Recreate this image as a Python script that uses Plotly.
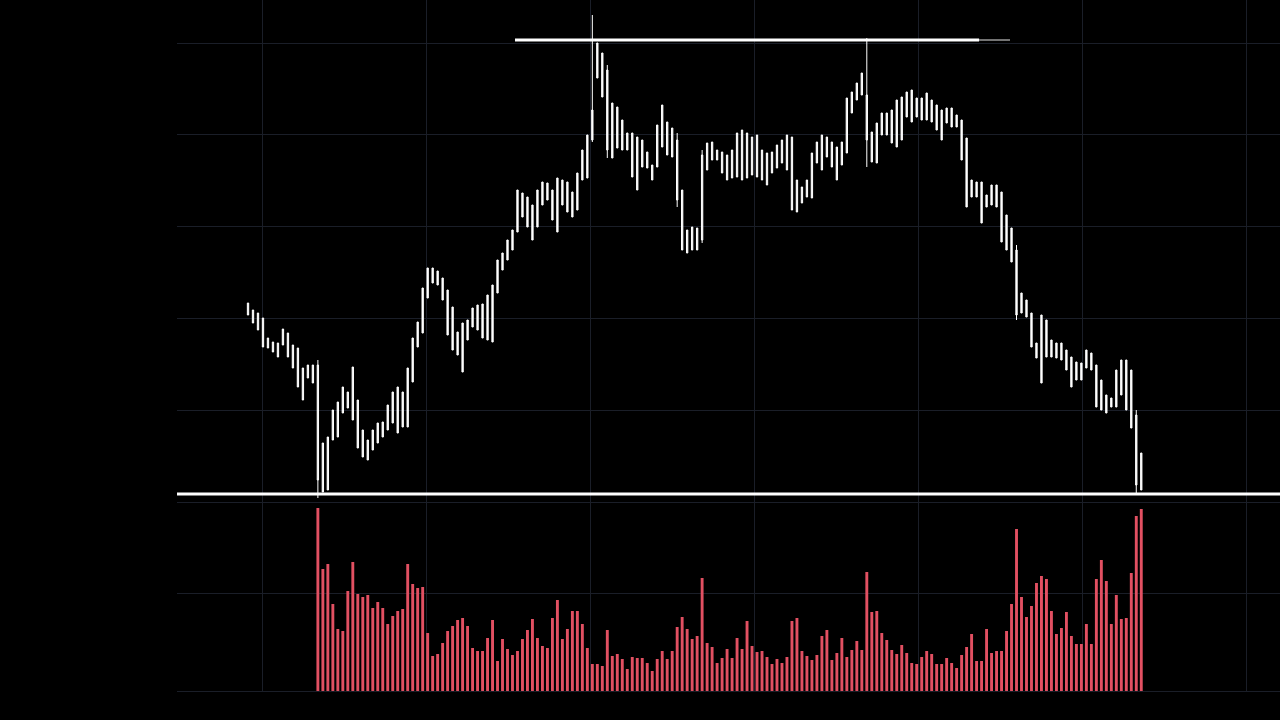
import plotly.graph_objects as go

# ---- price candles (index 0..179) ----
highs = [79.4, 78.0, 77.4, 76.4, 72.4, 71.6, 71.4, 74.2, 73.4, 71.0,
         70.4, 66.4, 67.0, 67.0, 68.0, 51.4, 52.6, 58.0, 59.6, 62.6,
         61.6, 66.6, 60.0, 54.0, 52.0, 54.0, 55.4, 55.6, 59.0, 61.6,
         62.6, 61.6, 66.4, 72.4, 75.6, 82.4, 86.4, 86.4, 85.8, 84.4,
         82.0, 78.6, 73.6, 75.4, 76.0, 78.4, 79.0, 79.2, 81.0, 83.0,
         88.0, 89.4, 92.0, 94.0, 102.0, 101.4, 100.6, 99.0, 102.0, 103.6,
         103.4, 102.0, 104.4, 104.0, 103.6, 101.6, 105.4, 110.0, 113.0, 137.0,
         131.4, 129.4, 127.0, 119.4, 118.6, 116.0, 113.4, 113.4, 112.6, 112.0,
         109.6, 107.0, 115.0, 119.0, 115.6, 114.4, 113.4, 102.0, 94.0, 94.6,
         94.4, 110.0, 111.4, 111.6, 110.0, 109.6, 109.0, 110.0, 113.4, 114.0,
         113.4, 112.6, 113.0, 110.0, 109.4, 109.6, 111.0, 112.0, 113.0, 112.6,
         104.0, 102.6, 104.0, 109.4, 111.6, 113.0, 112.6, 111.6, 110.6, 111.6,
         120.4, 121.6, 123.4, 125.4, 132.4, 113.6, 115.4, 117.4, 117.4, 118.0,
         120.0, 120.6, 121.6, 122.0, 120.4, 120.4, 121.4, 120.0, 119.0, 118.0,
         118.4, 118.4, 117.0, 116.0, 112.4, 104.0, 103.6, 103.6, 101.0, 103.0,
         103.0, 101.6, 97.0, 94.4, 91.0, 81.4, 80.0, 77.4, 71.4, 77.0,
         76.0, 72.0, 71.4, 71.4, 70.0, 68.6, 67.6, 67.4, 70.0, 69.4,
         67.0, 64.0, 61.0, 60.4, 66.0, 68.0, 68.0, 66.0, 58.0, 49.4]

lows = [77.0, 75.4, 74.0, 70.6, 70.4, 69.6, 68.6, 71.0, 68.6, 66.4,
        62.6, 60.0, 64.4, 63.4, 40.4, 41.6, 42.0, 52.0, 52.6, 57.4,
        58.4, 56.0, 50.4, 48.6, 48.0, 50.0, 51.4, 52.6, 54.0, 55.4,
        53.4, 54.6, 54.6, 63.6, 70.6, 73.4, 80.4, 83.4, 83.0, 80.0,
        73.0, 70.0, 69.0, 65.6, 72.0, 74.6, 74.0, 72.4, 72.0, 71.6,
        81.4, 86.0, 88.0, 90.0, 93.6, 96.6, 94.6, 92.0, 94.6, 99.0,
        100.0, 96.0, 93.6, 99.0, 97.6, 96.6, 98.0, 104.0, 104.4, 111.6,
        124.4, 120.6, 108.4, 108.4, 110.4, 110.0, 110.0, 104.6, 102.0, 106.6,
        106.4, 104.0, 106.6, 110.6, 109.0, 108.6, 98.6, 90.0, 89.4, 90.0,
        90.0, 91.4, 106.0, 108.0, 108.0, 105.4, 104.0, 104.4, 104.6, 104.0,
        104.4, 105.0, 104.6, 104.0, 103.0, 105.4, 106.4, 107.4, 106.0, 98.0,
        97.6, 99.4, 100.6, 100.4, 107.4, 106.0, 108.6, 106.6, 104.0, 107.0,
        109.4, 117.4, 120.0, 121.0, 106.6, 107.6, 107.4, 113.0, 113.0, 111.4,
        110.6, 112.0, 116.6, 115.6, 116.6, 116.0, 116.0, 115.6, 114.0, 112.0,
        115.4, 114.6, 114.6, 108.0, 98.6, 100.6, 100.6, 95.4, 98.6, 99.0,
        98.6, 91.6, 90.0, 87.6, 76.0, 77.4, 76.6, 70.6, 68.4, 63.4,
        68.6, 68.6, 68.4, 68.0, 66.0, 62.6, 64.0, 64.0, 66.4, 66.0,
        58.6, 58.0, 57.4, 58.6, 58.6, 61.0, 58.0, 54.4, 41.4, 42.0]

opens = [79.4, 78.0, 77.4, 76.4, 72.4, 71.6, 71.4, 71.0, 73.4, 71.0,
         70.4, 66.4, 64.4, 67.0, 67.0, 51.4, 42.0, 52.0, 52.6, 57.4,
         61.6, 56.0, 60.0, 54.0, 52.0, 50.0, 51.4, 52.6, 54.0, 55.4,
         62.6, 54.6, 54.6, 63.6, 70.6, 73.4, 80.4, 86.4, 85.8, 84.4,
         82.0, 78.6, 73.6, 65.6, 72.0, 74.6, 79.0, 72.4, 72.0, 71.6,
         81.4, 86.0, 88.0, 90.0, 93.6, 101.4, 100.6, 99.0, 94.6, 99.0,
         103.4, 102.0, 93.6, 104.0, 103.6, 101.6, 98.0, 104.0, 104.4, 112.0,
         131.4, 129.4, 126.0, 108.4, 118.6, 116.0, 113.4, 113.4, 102.0, 112.0,
         109.6, 104.0, 106.6, 110.6, 115.6, 114.4, 112.0, 102.0, 94.0, 90.0,
         94.4, 92.0, 106.0, 111.6, 110.0, 109.6, 104.0, 104.4, 104.6, 114.0,
         104.4, 112.6, 113.0, 110.0, 103.0, 105.4, 106.4, 107.4, 113.0, 112.6,
         104.0, 99.4, 100.6, 100.4, 107.4, 113.0, 112.6, 111.6, 104.0, 107.0,
         109.4, 117.4, 120.0, 121.0, 121.0, 107.6, 107.4, 113.0, 113.0, 111.4,
         110.6, 112.0, 116.6, 122.0, 116.6, 116.0, 121.4, 120.0, 119.0, 112.0,
         118.4, 118.4, 117.0, 116.0, 112.4, 100.6, 103.6, 95.4, 98.6, 103.0,
         103.0, 101.6, 97.0, 94.4, 90.0, 81.4, 80.0, 77.4, 68.4, 77.0,
         68.6, 72.0, 68.4, 71.4, 70.0, 62.6, 67.6, 64.0, 70.0, 69.4,
         67.0, 64.0, 57.4, 58.6, 58.6, 68.0, 68.0, 66.0, 57.0, 42.0]

closes = [77.0, 75.4, 74.0, 70.6, 70.4, 69.6, 68.6, 74.2, 68.6, 66.4,
          62.6, 60.0, 67.0, 63.4, 44.0, 41.6, 52.6, 58.0, 59.6, 62.6,
          58.4, 66.6, 50.4, 48.6, 48.0, 54.0, 55.4, 55.6, 59.0, 61.6,
          53.4, 61.6, 66.4, 72.4, 75.6, 82.4, 86.4, 83.4, 83.0, 80.0,
          73.0, 70.0, 69.0, 75.4, 76.0, 78.4, 74.0, 79.2, 81.0, 83.0,
          88.0, 89.4, 92.0, 94.0, 102.0, 96.6, 94.6, 92.0, 102.0, 103.6,
          100.0, 96.0, 104.4, 99.0, 97.6, 96.6, 105.4, 110.0, 113.0, 118.0,
          124.4, 120.6, 110.0, 119.4, 110.4, 110.0, 110.0, 104.6, 112.6, 106.6,
          106.4, 107.0, 115.0, 119.0, 109.0, 108.6, 100.0, 90.0, 89.4, 94.6,
          90.0, 109.0, 111.4, 108.0, 108.0, 105.4, 109.0, 110.0, 113.4, 104.0,
          113.4, 105.0, 104.6, 104.0, 109.4, 109.6, 111.0, 112.0, 106.0, 98.0,
          97.6, 102.6, 104.0, 109.4, 111.6, 106.0, 108.6, 106.6, 110.6, 111.6,
          120.4, 121.6, 123.4, 125.4, 112.0, 113.6, 115.4, 117.4, 117.4, 118.0,
          120.0, 120.6, 121.6, 115.6, 120.4, 120.4, 116.0, 115.6, 114.0, 118.0,
          115.4, 114.6, 114.6, 108.0, 98.6, 104.0, 100.6, 103.6, 101.0, 99.0,
          98.6, 91.6, 90.0, 87.6, 77.0, 77.4, 76.6, 70.6, 71.4, 63.4,
          76.0, 68.6, 71.4, 68.0, 66.0, 68.6, 64.0, 67.4, 66.4, 66.0,
          58.6, 58.0, 61.0, 60.4, 66.0, 61.0, 58.0, 54.4, 43.0, 49.4]

# ---- volume (starts at candle 14) ----
VOLUME_START = 14
volumes = [18.3, 12.2, 12.7, 8.7, 6.2, 6.0, 10.0, 12.9, 9.7, 9.4,
           9.6, 8.3, 8.9, 8.3, 6.7, 7.5, 8.0, 8.2, 12.7, 10.7,
           10.3, 10.4, 5.8, 3.5, 3.7, 4.8, 6.0, 6.5, 7.1, 7.3,
           6.5, 4.3, 4.0, 4.0, 5.3, 7.1, 3.0, 5.2, 4.2, 3.6,
           4.0, 5.2, 6.1, 7.2, 5.3, 4.5, 4.3, 7.3, 9.1, 5.2,
           6.2, 8.0, 8.0, 6.7, 4.3, 2.7, 2.7, 2.5, 6.1, 3.5,
           3.7, 3.2, 2.2, 3.4, 3.3, 3.3, 2.8, 2.0, 3.2, 4.0,
           3.2, 4.0, 6.4, 7.4, 6.2, 5.2, 5.5, 11.3, 4.8, 4.4,
           2.8, 3.3, 4.2, 3.3, 5.3, 4.2, 7.0, 4.5, 3.9, 4.0,
           3.4, 2.7, 3.2, 2.8, 3.4, 7.0, 7.3, 4.0, 3.5, 3.1,
           3.6, 5.5, 6.1, 3.1, 3.8, 5.3, 3.4, 4.1, 5.0, 4.1,
           11.9, 7.9, 8.0, 5.8, 5.1, 4.1, 3.7, 4.6, 3.8, 2.8,
           2.7, 3.4, 4.0, 3.7, 2.7, 2.7, 3.3, 2.8, 2.3, 3.6,
           4.4, 5.7, 3.0, 3.0, 6.2, 3.8, 4.0, 4.0, 6.0, 8.7,
           16.2, 9.4, 7.4, 8.5, 10.8, 11.5, 11.2, 8.0, 5.7, 6.3,
           7.9, 5.5, 4.7, 4.7, 6.7, 4.7, 11.2, 13.1, 11.0, 6.7,
           9.6, 7.2, 7.3, 11.8, 17.5, 18.2]

# ---- horizontal levels ----
support_level = 41.2
resistance_level = 132.0
resistance_start, resistance_solid_end, resistance_end = 53.5, 146.5, 152.7

idx = list(range(len(highs)))
vol_idx = list(range(VOLUME_START, VOLUME_START + len(volumes)))

GRID = "rgb(26,30,40)"
X_RANGE = [-14.23, 206.8]
Y_RANGE = [1.8, 140.0]
y_grid_vals = [131.4 - 18.366 * k for k in range(7)]

fig = go.Figure()

fig.add_trace(go.Bar(
    x=vol_idx, y=volumes, yaxis="y2", width=0.58,
    marker=dict(color="rgb(226,80,98)", line=dict(width=0)),
    showlegend=False, hoverinfo="skip"))

fig.add_trace(go.Candlestick(
    x=idx, open=opens, high=highs, low=lows, close=closes,
    increasing=dict(line=dict(color="white", width=1), fillcolor="white"),
    decreasing=dict(line=dict(color="white", width=1), fillcolor="white"),
    whiskerwidth=0, showlegend=False, hoverinfo="skip"))

fig.add_trace(go.Scatter(
    x=[resistance_start, resistance_solid_end], y=[resistance_level] * 2,
    mode="lines", line=dict(color="white", width=3),
    showlegend=False, hoverinfo="skip"))
fig.add_trace(go.Scatter(
    x=[resistance_solid_end, resistance_end], y=[resistance_level] * 2,
    mode="lines", line=dict(color="rgba(255,255,255,0.45)", width=2),
    showlegend=False, hoverinfo="skip"))

fig.add_hline(y=support_level, line=dict(color="white", width=3), layer="above")

fig.update_layout(
    width=1280, height=720,
    margin=dict(l=177, r=0, t=0, b=29, pad=0),
    paper_bgcolor="black", plot_bgcolor="black",
    boxgap=0.62,
    showlegend=False,
    xaxis=dict(range=X_RANGE, tickmode="linear", tick0=2.81, dtick=32.87,
               showgrid=True, gridcolor=GRID, gridwidth=1,
               showticklabels=False, ticks="", zeroline=False,
               showline=True, linecolor=GRID, linewidth=1,
               rangeslider=dict(visible=False), fixedrange=True),
    yaxis=dict(range=Y_RANGE, tickmode="array", tickvals=y_grid_vals,
               showgrid=True, gridcolor=GRID, gridwidth=1,
               showticklabels=False, ticks="", zeroline=False, fixedrange=True),
    yaxis2=dict(range=[0, 69.1], overlaying="y", visible=False,
                showgrid=False, zeroline=False, fixedrange=True),
)

fig.write_html(
    "out.html",
    config={"displayModeBar": False},
    post_script="document.body.style.margin='0';document.body.style.background='black';document.body.style.overflow='hidden';",
)
